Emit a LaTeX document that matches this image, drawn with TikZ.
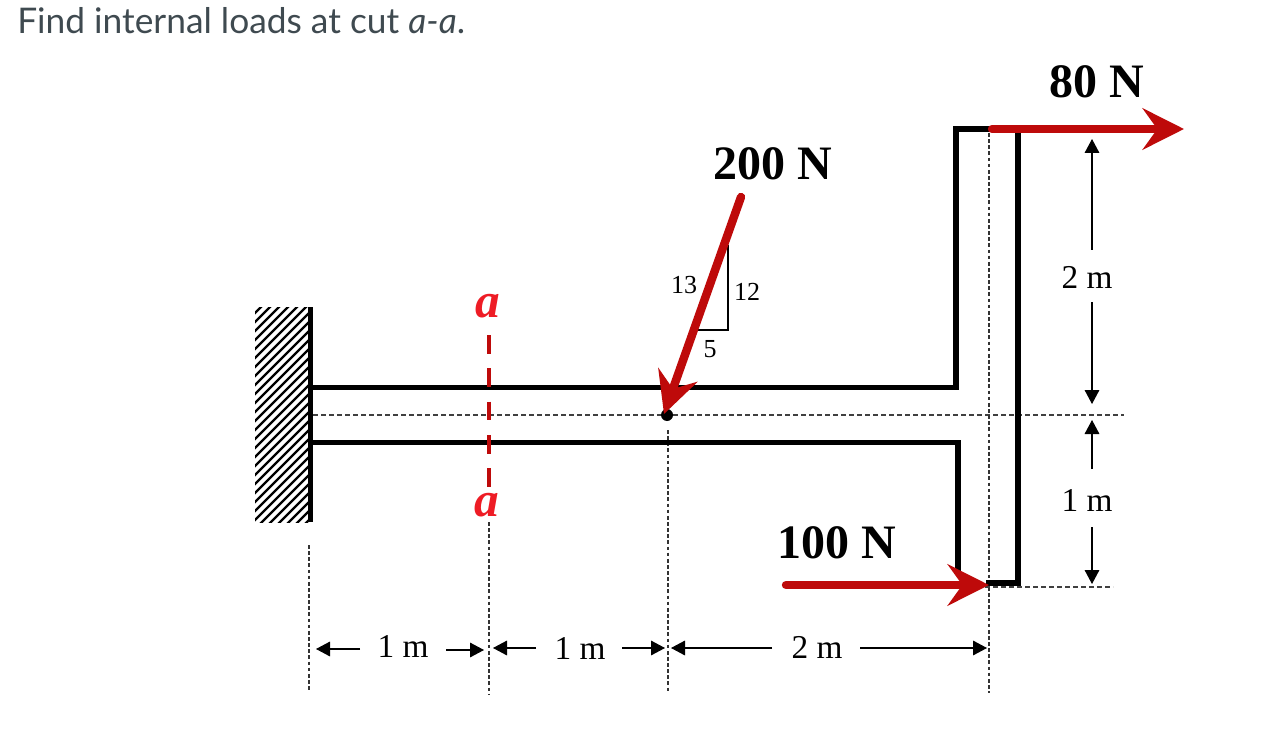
\documentclass[tikz,border=0pt]{standalone}
\usepackage{fontspec}
\setmainfont{Liberation Serif}
\newfontfamily\headfont{Lato}
\usetikzlibrary{arrows.meta}
\definecolor{darkred}{HTML}{BE0A0A}
\definecolor{cutred}{HTML}{EE1C25}
\definecolor{headgrey}{HTML}{3F4A50}
\tikzset{
 x=0.75pt,y=-0.75pt,
 beam/.style={line width=4.1pt,line cap=butt,line join=miter},
 force/.style={draw=darkred,line width=6.3pt,line cap=round,-{Stealth[length=31pt,width=31pt,inset=11pt]}},
 dash h/.style={line width=0.8pt,dash pattern=on 3.6pt off 2.4pt,black!75},
 dash v/.style={line width=0.8pt,dash pattern=on 2.8pt off 1.8pt,black!80},
 dimarrow/.style={line width=0.8pt,-{Triangle[length=10.5pt,width=11pt]}},
 thinline/.style={line width=2.1pt,line join=miter},
 dimtext/.style={inner sep=0pt,font=\fontsize{25pt}{28pt}\selectfont},
 slopetext/.style={inner sep=0pt,font=\fontsize{19.5pt}{22pt}\selectfont},
 forcetext/.style={inner sep=0pt,font=\fontsize{36pt}{40pt}\selectfont\bfseries},
 cuttext/.style={inner sep=0pt,text=cutred,font=\fontsize{37pt}{40pt}\selectfont\bfseries\itshape},
}
\begin{document}
\begin{tikzpicture}
\useasboundingbox (0,0) rectangle (1282,756);
\fill[white] (0,0) rectangle (1282,756);
% coordinates
\coordinate (wallTop) at (310.5,307);
\coordinate (wallBot) at (310.5,522);
\coordinate (topL) at (310,387.5);
\coordinate (topC) at (956,387.5);
\coordinate (topU) at (956,129);
\coordinate (topR) at (992,129);
\coordinate (lowL) at (310,442.5);
\coordinate (lowC) at (958,442.5);
\coordinate (lowD) at (958,575);
\coordinate (outT) at (1018,131);
\coordinate (outB) at (1018,583);
\coordinate (outE) at (986,583);
% title
\node[anchor=west,inner sep=0pt,text=headgrey,font=\fontsize{26.5pt}{32pt}\selectfont\headfont] (title) at (17,21) {Find internal loads at cut \textit{a-a}.};
% hatch
\begin{scope}
\clip (255,307) rectangle (310,522);
\foreach \k in {0,...,32}{
  \draw[line width=1.7pt] (250,{300+9*\k}) -- ++(70,-70);
}
\end{scope}
% dashed guide lines
\coordinate (cL) at (313,415); \coordinate (cR) at (1124,415);
\coordinate (v1t) at (989,133); \coordinate (v1b) at (989,693);
\coordinate (v2t) at (668,430); \coordinate (v2b) at (668,693);
\coordinate (v3t) at (489,522); \coordinate (v3b) at (489,695);
\coordinate (v4t) at (309,545); \coordinate (v4b) at (309,690);
\coordinate (hL) at (985,587); \coordinate (hR) at (1113,587);
\draw[dash h] (cL) -- (cR);
\draw[dash v] (v1t) -- (v1b);
\draw[dash v] (v2t) -- (v2b);
\draw[dash v] (v3t) -- (v3b);
\draw[dash v] (v4t) -- (v4b);
\draw[dash h] (hL) -- (hR);
% beams
\draw[beam] (wallTop) -- (wallBot);
\draw[beam] (topL) -- (topC) -- (topU) -- (topR);
\draw[beam] (lowL) -- (lowC) -- (lowD);
\draw[beam] (outT) -- (outB) -- (outE);
% slope triangle
\coordinate (triT) at (728,245); \coordinate (triC) at (728,330); \coordinate (triL) at (698,330);
\draw[thinline] (triT) -- (triC) -- (triL);
\node[slopetext] (t13) at (684,285) {13};
\node[slopetext] (t12) at (747,292) {12};
\node[slopetext] (t5) at (710,349) {5};
% cut line
\coordinate (cutT) at (489,335); \coordinate (cutB) at (489,488);
\draw[darkred,line width=3pt,dash pattern=on 14pt off 11pt] (cutT) -- (cutB);
\node[cuttext] (aTop) at (488,306) {a};
\node[cuttext] (aBot) at (487,505) {a};
% dot
\node[circle,fill=black,inner sep=0pt,minimum size=9pt] (dot) at (667,415) {};
% forces
\coordinate (f2s) at (741,197); \coordinate (f2e) at (664,414);
\coordinate (f8s) at (992,129); \coordinate (f8e) at (1184,129);
\coordinate (f1s) at (786,585); \coordinate (f1e) at (989,585);
\draw[force] (f2s) -- (f2e);
\draw[force] (f8s) -- (f8e);
\draw[force] (f1s) -- (f1e);
\node[forcetext] (l200) at (773,164) {200 N};
\node[forcetext] (l80) at (1097,82) {80 N};
\node[forcetext] (l100) at (837,543) {100 N};
% vertical dimensions
\node[dimtext] (d2v) at (1087,277) {2 m};
\node[dimtext] (d1v) at (1087,500) {1 m};
\coordinate (a1) at (1092,139); \coordinate (a2) at (1092,250);
\coordinate (a3) at (1092,302); \coordinate (a4) at (1092,404);
\coordinate (a5) at (1092,420); \coordinate (a6) at (1092,469);
\coordinate (a7) at (1092,527); \coordinate (a8) at (1092,584);
\draw[dimarrow] (a2) -- (a1);
\draw[dimarrow] (a3) -- (a4);
\draw[dimarrow] (a6) -- (a5);
\draw[dimarrow] (a7) -- (a8);
% horizontal dimensions
\node[dimtext] (d1a) at (403,646) {1 m};
\node[dimtext] (d1b) at (580,648) {1 m};
\node[dimtext] (d2h) at (817,647) {2 m};
\coordinate (b1) at (360,649); \coordinate (b2) at (316,649);
\coordinate (b3) at (446,650); \coordinate (b4) at (484,650);
\coordinate (b5) at (536,648); \coordinate (b6) at (493,648);
\coordinate (b7) at (622,648); \coordinate (b8) at (665,648);
\coordinate (b9) at (772,648); \coordinate (b10) at (671,648);
\coordinate (b11) at (860,648); \coordinate (b12) at (987,648);
\draw[dimarrow] (b1) -- (b2);
\draw[dimarrow] (b3) -- (b4);
\draw[dimarrow] (b5) -- (b6);
\draw[dimarrow] (b7) -- (b8);
\draw[dimarrow] (b9) -- (b10);
\draw[dimarrow] (b11) -- (b12);
\end{tikzpicture}
\end{document}
